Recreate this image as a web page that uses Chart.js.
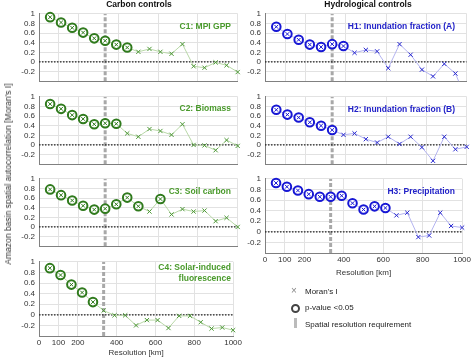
<!DOCTYPE html>
<html>
<head>
<meta charset="utf-8">
<script src="https://cdn.jsdelivr.net/npm/chart.js@4"></script>
<style>
  body { margin: 0; background: #fff; font-family: "Liberation Sans", Arial, sans-serif; }
  #wrap { position: relative; width: 474px; height: 360px; overflow: hidden; }
  canvas { position: absolute; }
  .txt { position: absolute; white-space: nowrap; }
  .colTitle { font-weight: bold; font-size: 8.5px; color: #111; transform: translateX(-50%); }
  .plabel { font-weight: bold; font-size: 8.5px; text-align: right; line-height: 11px; }
  .leg { font-size: 8px; color: #222; }
</style>
</head>
<body>
<div id="wrap"></div>
<script>
// Resolution (km) of each point, shared by all panels
const xKm = [56, 111, 167, 222, 278, 333, 389, 444, 500, 556, 611, 667, 722, 778, 833, 889, 944, 1000];
const xTicks = [0, 100, 200, 400, 600, 800, 1000];
const yTicks = [-0.4, -0.2, 0, 0.2, 0.4, 0.6, 0.8, 1];
const requirementKm = 333;

// Moran's I per panel, 1 = p-value < 0.05
const c1Moran = [0.93, 0.82, 0.71, 0.61, 0.49, 0.44, 0.36, 0.30, 0.21, 0.27, 0.21, 0.17, 0.37, -0.09, -0.12, -0.01, -0.07, -0.21];
const c1Sig = [1, 1, 1, 1, 1, 1, 1, 1, 0, 0, 0, 0, 0, 0, 0, 0, 0, 0];
const c2Moran = [0.85, 0.75, 0.62, 0.54, 0.43, 0.45, 0.44, 0.24, 0.17, 0.33, 0.29, 0.21, 0.43, 0.0, -0.01, -0.11, 0.10, -0.02];
const c2Sig = [1, 1, 1, 1, 1, 1, 1, 0, 0, 0, 0, 0, 0, 0, 0, 0, 0, 0];
const c3Moran = [0.78, 0.66, 0.55, 0.44, 0.36, 0.38, 0.47, 0.61, 0.43, 0.32, 0.58, 0.26, 0.37, 0.32, 0.34, 0.12, 0.19, 0.0];
const c3Sig = [1, 1, 1, 1, 1, 1, 1, 1, 1, 0, 1, 0, 0, 0, 0, 0, 0, 0];
const c4Moran = [0.88, 0.75, 0.57, 0.42, 0.24, 0.08, -0.01, -0.01, -0.20, -0.10, -0.10, -0.25, -0.02, -0.02, -0.14, -0.26, -0.24, -0.29];
const c4Sig = [1, 1, 1, 1, 1, 0, 0, 0, 0, 0, 0, 0, 0, 0, 0, 0, 0, 0];
const h1Moran = [0.73, 0.58, 0.46, 0.36, 0.31, 0.37, 0.33, 0.19, 0.25, 0.22, -0.13, 0.37, 0.15, -0.16, -0.30, -0.04, -0.24, -0.80];
const h1Sig = [1, 1, 1, 1, 1, 1, 1, 0, 0, 0, 0, 0, 0, 0, 0, 0, 0, 0];
const h2Moran = [0.73, 0.63, 0.57, 0.47, 0.40, 0.31, 0.21, 0.24, 0.12, 0.05, 0.17, 0.02, 0.17, -0.05, -0.33, 0.17, -0.09, -0.04];
const h2Sig = [1, 1, 1, 1, 1, 1, 0, 0, 0, 0, 0, 0, 0, 0, 0, 0, 0, 0];
const h3Moran = [0.92, 0.85, 0.78, 0.71, 0.66, 0.66, 0.68, 0.54, 0.42, 0.48, 0.45, 0.31, 0.36, -0.10, -0.07, 0.36, 0.11, 0.08];
const h3Sig = [1, 1, 1, 1, 1, 1, 1, 1, 1, 1, 1, 0, 0, 0, 0, 0, 0, 0];

const green = { dark: "#2f7a1c", mid: "#4e9838", line: "#b9d8a8", text: "#4a9a2c" };
const blue = { dark: "#1717d4", mid: "#2a2ad0", line: "#b4b4f0", text: "#2222c8" };
const FONT = '"Liberation Sans", Arial, sans-serif';

const wrap = document.getElementById("wrap");
const PLOT_H = 77;

function addText(cls, text, style) {
  const d = document.createElement("div");
  d.className = "txt " + cls;
  d.innerHTML = text;
  Object.assign(d.style, style);
  wrap.append(d);
  return d;
}

function makePanel(p) {
  const xh = p.bottomH || 2;
  const canvas = document.createElement("canvas");
  canvas.width = 30 + p.w + 6;
  canvas.height = 6 + PLOT_H + xh;
  canvas.style.left = p.left - 30 + "px";
  canvas.style.top = p.top - 6 + "px";
  wrap.append(canvas);

  const pts = xKm.map((x, k) => ({ x: x, y: p.moran[k] }));
  const sigPts = pts.filter((pt, k) => p.sig[k]);
  const col = p.col;

  new Chart(canvas.getContext("2d"), {
    type: "scatter",
    data: {
      datasets: [
        {
          // Moran's I crosses
          data: pts,
          pointStyle: "crossRot",
          pointRadius: (ctx) => (p.sig[ctx.dataIndex] ? 2.6 : 3),
          pointBorderWidth: 1,
          pointBorderColor: (ctx) => (p.sig[ctx.dataIndex] ? col.dark : col.mid),
          showLine: false,
          clip: { left: 6, right: 6, top: 6, bottom: 0 },
        },
        {
          // significant points
          data: sigPts,
          pointStyle: "circle",
          pointRadius: 4.3,
          pointBorderWidth: 2,
          pointBorderColor: col.dark,
          pointBackgroundColor: "#ffffff",
          showLine: false,
          clip: { left: 6, right: 6, top: 6, bottom: 0 },
        },
        {
          data: pts,
          showLine: true,
          borderColor: col.line,
          borderWidth: 1,
          pointRadius: 0,
          clip: { left: 6, right: 6, top: 6, bottom: 0 },
        },
        {
          data: [{ x: 0, y: 0 }, { x: 1000, y: 0 }],
          showLine: true,
          borderColor: "#222222",
          borderWidth: 1.3,
          borderDash: [1.5, 1.5],
          pointRadius: 0,
        },
        {
          data: [{ x: requirementKm, y: -0.4 }, { x: requirementKm, y: 1 }],
          showLine: true,
          borderColor: "#a8a8a8",
          borderWidth: 3,
          borderDash: [4, 2],
          pointRadius: 0,
        },
      ],
    },
    options: {
      responsive: false,
      animation: false,
      events: [],
      layout: { padding: { top: 6, right: 6, left: 0, bottom: 0 } },
      plugins: { legend: { display: false }, tooltip: { enabled: false } },
      scales: {
        x: {
          type: "linear",
          min: 0,
          max: 1000,
          afterBuildTicks: (s) => {
            s.ticks = xTicks.map((v) => ({ value: v }));
          },
          afterFit: (s) => {
            s.height = xh;
          },
          ticks: {
            display: !!p.bottomH,
            font: { family: FONT, size: 8 },
            color: "#333",
            padding: 2,
            maxRotation: 0,
            autoSkip: false,
            callback: (v) => String(v),
          },
          title: {
            display: !!p.bottomH,
            text: "Resolution [km]",
            font: { family: FONT, size: 8 },
            color: "#333",
            padding: { top: 1, bottom: 2 },
          },
          grid: { color: "#e2e2e2", lineWidth: 1, drawTicks: false },
          border: { color: "#808080", width: 1 },
        },
        y: {
          min: -0.4,
          max: 1,
          afterBuildTicks: (s) => {
            s.ticks = yTicks.map((v) => ({ value: v }));
          },
          afterFit: (s) => {
            s.width = 30;
          },
          ticks: {
            autoSkip: false,
            font: { family: FONT, size: 8 },
            color: "#333",
            padding: 4,
            callback: (v) => (v < -0.3 ? "" : String(Math.round(v * 10) / 10)),
          },
          grid: { color: "#e2e2e2", lineWidth: 1, drawTicks: false },
          border: { color: "#808080", width: 1 },
        },
      },
    },
  });

  addText("plabel", p.label, {
    right: 474 - p.labelRight + "px",
    top: p.top + p.labelDy + "px",
    color: col.text,
  });
}

const L = 39, LW = 199, R = 265, RW = 202;

makePanel({ left: L, w: LW, top: 11, moran: c1Moran, sig: c1Sig, col: green, label: "C1: MPI GPP", labelRight: 231, labelDy: 10 });
makePanel({ left: L, w: LW, top: 94, moran: c2Moran, sig: c2Sig, col: green, label: "C2: Biomass", labelRight: 231, labelDy: 9 });
makePanel({ left: L, w: LW, top: 176, moran: c3Moran, sig: c3Sig, col: green, label: "C3: Soil carbon", labelRight: 231, labelDy: 10 });
makePanel({ left: L, w: LW, top: 259, moran: c4Moran, sig: c4Sig, col: green, label: "C4: Solar-induced<br>fluorescence", labelRight: 231, labelDy: 3, bottomH: 24 });
makePanel({ left: R, w: RW, top: 11, moran: h1Moran, sig: h1Sig, col: blue, label: "H1: Inundation fraction (A)", labelRight: 455, labelDy: 10 });
makePanel({ left: R, w: RW, top: 94, moran: h2Moran, sig: h2Sig, col: blue, label: "H2: Inundation fraction (B)", labelRight: 455, labelDy: 10 });
makePanel({ left: R, w: RW, top: 176, moran: h3Moran, sig: h3Sig, col: blue, label: "H3: Precipitation", labelRight: 455, labelDy: 10, bottomH: 27 });

addText("colTitle", "Carbon controls", { left: "139px", top: "-1px" });
addText("colTitle", "Hydrological controls", { left: "368px", top: "-1px" });

// rotated y-axis title
addText("leg", "Amazon basin spatial autocorrelation [Moran's I]", {
  left: "8px",
  top: "174px",
  fontSize: "8.5px",
  color: "#333",
  transform: "translate(-50%, -50%) rotate(-90deg)",
});

// legend
addText("leg", '<span style="color:#888;font-size:10px">&times;</span>', { left: "291px", top: "285px" });
addText("leg", "Moran's I", { left: "305px", top: "287px" });
addText("leg", '<span style="display:inline-block;width:5px;height:5px;border:2px solid #444;border-radius:50%"></span>', { left: "291px", top: "304px" });
addText("leg", "p-value &lt;0.05", { left: "305px", top: "303px" });
addText("leg", '<span style="display:inline-block;width:0;height:10px;border-left:3px dashed #bbb"></span>', { left: "294px", top: "318px" });
addText("leg", "Spatial resolution requirement", { left: "305px", top: "320px" });
</script>
</body>
</html>
